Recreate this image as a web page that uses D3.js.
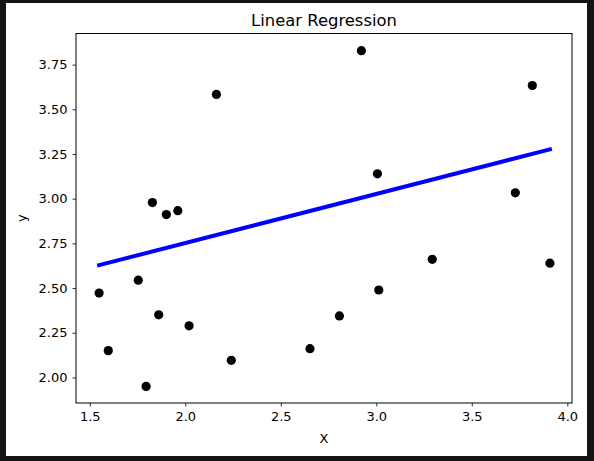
<!DOCTYPE html>
<html lang="en">
<head>
    <meta charset="UTF-8">
    <title>Linear Regression</title>
    <script src="https://d3js.org/d3.v7.min.js"></script>
    <style>
        body {
            margin: 0;
            background: #141414;
            font-family: "DejaVu Sans", sans-serif;
        }
        svg { display: block; }
        .tick text { font-size: 13px; fill: #000; }
    </style>
</head>
<body>
    <div id="chart"></div>

    <script>
        // scatter points
        const xValues = [1.549, 1.597, 1.754, 1.795, 1.828, 1.861, 1.901, 1.961, 2.020, 2.163,
                         2.241, 2.653, 2.807, 2.922, 3.006, 3.013, 3.293, 3.728, 3.817, 3.909];
        const yValues = [2.472, 2.150, 2.544, 1.950, 2.978, 2.350, 2.911, 2.933, 2.289, 3.583,
                         2.096, 2.161, 2.344, 3.828, 3.139, 2.489, 2.661, 3.033, 3.633, 2.639];

        // fitted line endpoints
        const lineX = [1.549, 3.909];
        const lineY = [2.628, 3.276];

        const xTicks = [1.5, 2.0, 2.5, 3.0, 3.5, 4.0];
        const yTicks = [2.00, 2.25, 2.50, 2.75, 3.00, 3.25, 3.50, 3.75];

        const width = 594, height = 461;
        const plot = { left: 76, top: 33.5, right: 572, bottom: 403 };

        const svg = d3.select("#chart").append("svg")
            .attr("width", width)
            .attr("height", height);

        // white figure area inside the dark frame
        svg.append("rect")
            .attr("x", 6).attr("y", 3)
            .attr("width", 581).attr("height", 453)
            .attr("fill", "#fff");

        const x = d3.scaleLinear().domain([1.428, 4.0246]).range([plot.left, plot.right]);
        const y = d3.scaleLinear().domain([1.857, 3.924]).range([plot.bottom, plot.top]);

        const xAxis = svg.append("g")
            .attr("transform", `translate(0,${plot.bottom})`)
            .call(d3.axisBottom(x).tickValues(xTicks).tickFormat(d3.format(".1f")).tickSizeInner(3.5).tickSizeOuter(0).tickPadding(5));
        const yAxis = svg.append("g")
            .attr("transform", `translate(${plot.left},0)`)
            .call(d3.axisLeft(y).tickValues(yTicks).tickFormat(d3.format(".2f")).tickSizeInner(3.5).tickSizeOuter(0).tickPadding(5));

        [xAxis, yAxis].forEach(a => {
            a.select(".domain").remove();
            a.selectAll(".tick line").attr("stroke", "#000").attr("stroke-width", 0.8);
            a.selectAll(".tick text").attr("font-family", "DejaVu Sans, sans-serif");
        });

        // spines
        svg.append("rect")
            .attr("x", plot.left).attr("y", plot.top)
            .attr("width", plot.right - plot.left).attr("height", plot.bottom - plot.top)
            .attr("fill", "none").attr("stroke", "#000").attr("stroke-width", 1);

        // points
        svg.append("g").selectAll("circle")
            .data(xValues.map((v, i) => [v, yValues[i]]))
            .enter().append("circle")
            .attr("cx", d => x(d[0]))
            .attr("cy", d => y(d[1]))
            .attr("r", 4.6)
            .attr("fill", "#000");

        // regression line
        svg.append("path")
            .datum(lineX.map((v, i) => [v, lineY[i]]))
            .attr("d", d3.line().x(d => x(d[0])).y(d => y(d[1])))
            .attr("stroke", "#0000ff")
            .attr("stroke-width", 4)
            .attr("stroke-linecap", "square")
            .attr("fill", "none");

        // title and axis labels
        svg.append("text")
            .attr("x", (plot.left + plot.right) / 2).attr("y", 25.5)
            .attr("text-anchor", "middle")
            .style("font-size", "16.4px")
            .text("Linear Regression");

        svg.append("text")
            .attr("x", (plot.left + plot.right) / 2).attr("y", 443)
            .attr("text-anchor", "middle")
            .style("font-size", "13px")
            .text("X");

        svg.append("text")
            .attr("transform", `translate(26,${(plot.top + plot.bottom) / 2}) rotate(-90)`)
            .attr("text-anchor", "middle")
            .style("font-size", "13px")
            .text("y");
    </script>
</body>
</html>
